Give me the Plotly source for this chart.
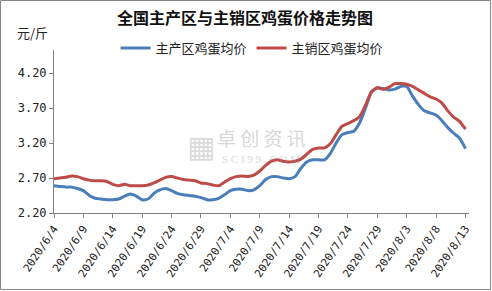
import pandas as pd
import plotly.graph_objects as go

dates = [f"{d.year}/{d.month}/{d.day}" for d in pd.date_range("2020-06-04", "2020-08-13")]

producing = [2.59, 2.58, 2.57, 2.57, 2.55, 2.52, 2.45, 2.41, 2.40, 2.39,
             2.39, 2.40, 2.44, 2.47, 2.44, 2.39, 2.40, 2.48, 2.53, 2.55,
             2.52, 2.48, 2.46, 2.45, 2.44, 2.42, 2.39, 2.39, 2.41, 2.46,
             2.52, 2.54, 2.54, 2.52, 2.53, 2.59, 2.68, 2.72, 2.72, 2.70,
             2.69, 2.72, 2.84, 2.93, 2.96, 2.96, 2.96, 3.05, 3.20, 3.32,
             3.35, 3.37, 3.49, 3.70, 3.93, 3.99, 3.98, 3.96, 3.97, 4.01,
             4.01, 3.87, 3.75, 3.66, 3.63, 3.60, 3.52, 3.42, 3.34, 3.27,
             3.12]

selling = [2.69, 2.70, 2.71, 2.73, 2.72, 2.69, 2.67, 2.66, 2.66, 2.65,
           2.61, 2.59, 2.61, 2.59, 2.59, 2.59, 2.60, 2.63, 2.67, 2.71,
           2.72, 2.70, 2.68, 2.67, 2.66, 2.63, 2.62, 2.60, 2.59, 2.64,
           2.69, 2.72, 2.73, 2.72, 2.74, 2.80, 2.88, 2.94, 2.96, 2.94,
           2.93, 2.94, 2.97, 3.04, 3.11, 3.13, 3.13, 3.19, 3.32, 3.44,
           3.48, 3.52, 3.58, 3.74, 3.93, 3.99, 3.97, 4.00, 4.05, 4.05,
           4.04, 4.01, 3.96, 3.91, 3.86, 3.83, 3.77, 3.66, 3.57, 3.51,
           3.40]

y_ticks = [2.20, 2.70, 3.20, 3.70, 4.20]
series_names = ["主产区鸡蛋均价", "主销区鸡蛋均价"]
colors = ["#4A7EBB", "#BE4B48"]

W, H = 492, 291
L, R, T, B = 54, 23, 50, 78
PW, PH = W - L - R, H - T - B

def px(x):
    return (x - L) / PW

def py(y):
    return (H - B - y) / PH

idx = list(range(len(dates)))
fig = go.Figure()
for name, vals, c in zip(series_names, [producing, selling], colors):
    fig.add_trace(go.Scatter(x=idx, y=vals, name=name, mode="lines",
                             line=dict(color=c, width=3, shape="spline", smoothing=0.6)))

wm = "rgba(150,150,150,0.40)"
fig.update_layout(
    width=W, height=H,
    margin=dict(l=L, r=R, t=T, b=B),
    paper_bgcolor="white", plot_bgcolor="white",
    showlegend=True,
    legend=dict(orientation="h", x=px(252), y=py(48), xanchor="center", yanchor="middle",
                font=dict(family="Noto Sans CJK SC", size=13, color="#222"),
                itemwidth=30, tracegroupgap=0, bgcolor="rgba(0,0,0,0)"),
    title=dict(text="<b>全国主产区与主销区鸡蛋价格走势图</b>", x=245 / W, xanchor="center",
               y=1 - 18 / H, yanchor="middle",
               font=dict(family="Noto Sans CJK SC", size=16, color="#111")),
    xaxis=dict(range=[0, 70.6], tickvals=idx[::5], ticktext=dates[::5], tickangle=-56,
               showline=True, linecolor="#808080", linewidth=1, showgrid=False, zeroline=False,
               ticks="outside", ticklen=4, tickcolor="#808080",
               tickfont=dict(family="DejaVu Sans Mono", size=11, color="#222")),
    yaxis=dict(range=[2.2, 4.53], tickvals=y_ticks, ticktext=[f"{v:.2f}" for v in y_ticks],
               showline=True, linecolor="#808080", linewidth=1, showgrid=False, zeroline=False,
               ticks="outside", ticklen=4, tickcolor="#808080",
               tickfont=dict(family="DejaVu Sans Mono", size=12, color="#222")),
    annotations=[
        dict(text="元/斤", x=px(32), y=py(33), xref="paper", yref="paper", showarrow=False,
             xanchor="center", yanchor="middle",
             font=dict(family="Noto Sans CJK SC", size=13, color="#222")),
        dict(text="卓 创 资 讯", x=px(261), y=py(152), xref="paper", yref="paper", showarrow=False,
             xanchor="center", yanchor="bottom", borderpad=0,
             font=dict(family="Noto Sans CJK SC", size=19, color=wm)),
        dict(text="S C I 9 9 . C O M", x=px(261), y=py(152), xref="paper", yref="paper",
             showarrow=False, xanchor="center", yanchor="top", borderpad=0,
             font=dict(family="Liberation Serif", size=11, color=wm)),
        dict(text="▦", x=px(201), y=py(146), xref="paper", yref="paper", showarrow=False,
             xanchor="center", yanchor="middle",
             font=dict(family="DejaVu Sans", size=30, color="rgba(150,150,150,0.35)")),
    ],
    shapes=[dict(type="rect", xref="paper", yref="paper",
                 x0=px(0.5), x1=px(W - 1.5), y0=py(H - 1.5), y1=py(0.5),
                 line=dict(color="#888", width=1), fillcolor="rgba(0,0,0,0)", layer="below")],
)

fig.write_html("out.html")
